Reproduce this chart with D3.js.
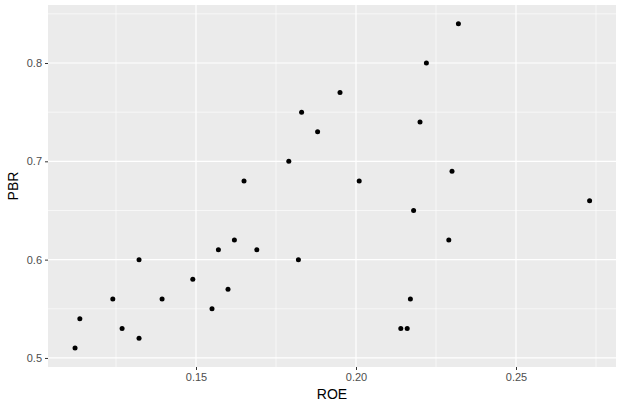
<!DOCTYPE html>
<html><head><meta charset="utf-8">
<script src="https://cdn.jsdelivr.net/npm/d3@7"></script>
<style>body{margin:0;background:#fff}text{font-family:Arial,"Liberation Sans",sans-serif}</style>
</head><body><div id="chart"></div>
<script>
const roe = [0.1122,0.1137,0.124,0.1269,0.1322,0.1322,0.1394,0.149,0.155,0.157,0.160,0.162,0.165,0.169,0.179,0.182,0.183,0.188,0.195,0.201,0.214,0.216,0.217,0.218,0.220,0.222,0.229,0.230,0.232,0.273];
const pbr = [0.51,0.54,0.56,0.53,0.60,0.52,0.56,0.58,0.55,0.61,0.57,0.62,0.68,0.61,0.70,0.60,0.75,0.73,0.77,0.68,0.53,0.53,0.56,0.65,0.74,0.80,0.62,0.69,0.84,0.66];
const xTicks = [0.15,0.20,0.25], xMinor = [0.125,0.175,0.225,0.275];
const yTicks = [0.5,0.6,0.7,0.8], yMinor = [0.55,0.65,0.75,0.85];

const width = 622, height = 407;
const margin = {top: 5, right: 6, bottom: 40, left: 48};
const svg = d3.select("#chart").append("svg").attr("width", width).attr("height", height);

const x = d3.scaleLinear().domain([0.10375, 0.28125]).range([margin.left, width - margin.right]);
const y = d3.scaleLinear().domain([0.4908, 0.859]).range([height - margin.bottom, margin.top]);

svg.append("rect").attr("x", margin.left).attr("y", margin.top)
  .attr("width", width - margin.left - margin.right).attr("height", height - margin.top - margin.bottom)
  .attr("fill", "#ebebeb");

// grid
svg.selectAll(".xmin").data(xMinor).join("line").attr("x1", d => x(d)).attr("x2", d => x(d))
  .attr("y1", margin.top).attr("y2", height - margin.bottom).attr("stroke", "#fff").attr("stroke-width", 0.6);
svg.selectAll(".ymin").data(yMinor).join("line").attr("y1", d => y(d)).attr("y2", d => y(d))
  .attr("x1", margin.left).attr("x2", width - margin.right).attr("stroke", "#fff").attr("stroke-width", 0.6);
svg.selectAll(".xmaj").data(xTicks).join("line").attr("x1", d => x(d)).attr("x2", d => x(d))
  .attr("y1", margin.top).attr("y2", height - margin.bottom).attr("stroke", "#fff").attr("stroke-width", 1.2);
svg.selectAll(".ymaj").data(yTicks).join("line").attr("y1", d => y(d)).attr("y2", d => y(d))
  .attr("x1", margin.left).attr("x2", width - margin.right).attr("stroke", "#fff").attr("stroke-width", 1.2);

// axes
const xAxis = svg.append("g").attr("transform", `translate(0,${height - margin.bottom})`)
  .call(d3.axisBottom(x).tickValues(xTicks).tickFormat(d3.format(".2f")).tickSize(3).tickPadding(3));
const yAxis = svg.append("g").attr("transform", `translate(${margin.left},0)`)
  .call(d3.axisLeft(y).tickValues(yTicks).tickFormat(d3.format(".1f")).tickSize(3).tickPadding(3));
[xAxis, yAxis].forEach(g => {
  g.select(".domain").remove();
  g.selectAll(".tick line").attr("stroke", "#333");
  g.selectAll(".tick text").attr("fill", "#4d4d4d").style("font-size", "11px");
});

svg.append("text").attr("x", (margin.left + width - margin.right) / 2).attr("y", height - 8)
  .attr("text-anchor", "middle").style("font-size", "14px").text("ROE");
svg.append("text").attr("transform", `translate(18,${(margin.top + height - margin.bottom) / 2}) rotate(-90)`)
  .attr("text-anchor", "middle").style("font-size", "14px").text("PBR");

svg.selectAll(".pt").data(roe).join("circle")
  .attr("cx", d => x(d)).attr("cy", (d, i) => y(pbr[i])).attr("r", 2.5).attr("fill", "#000");
</script></body></html>
